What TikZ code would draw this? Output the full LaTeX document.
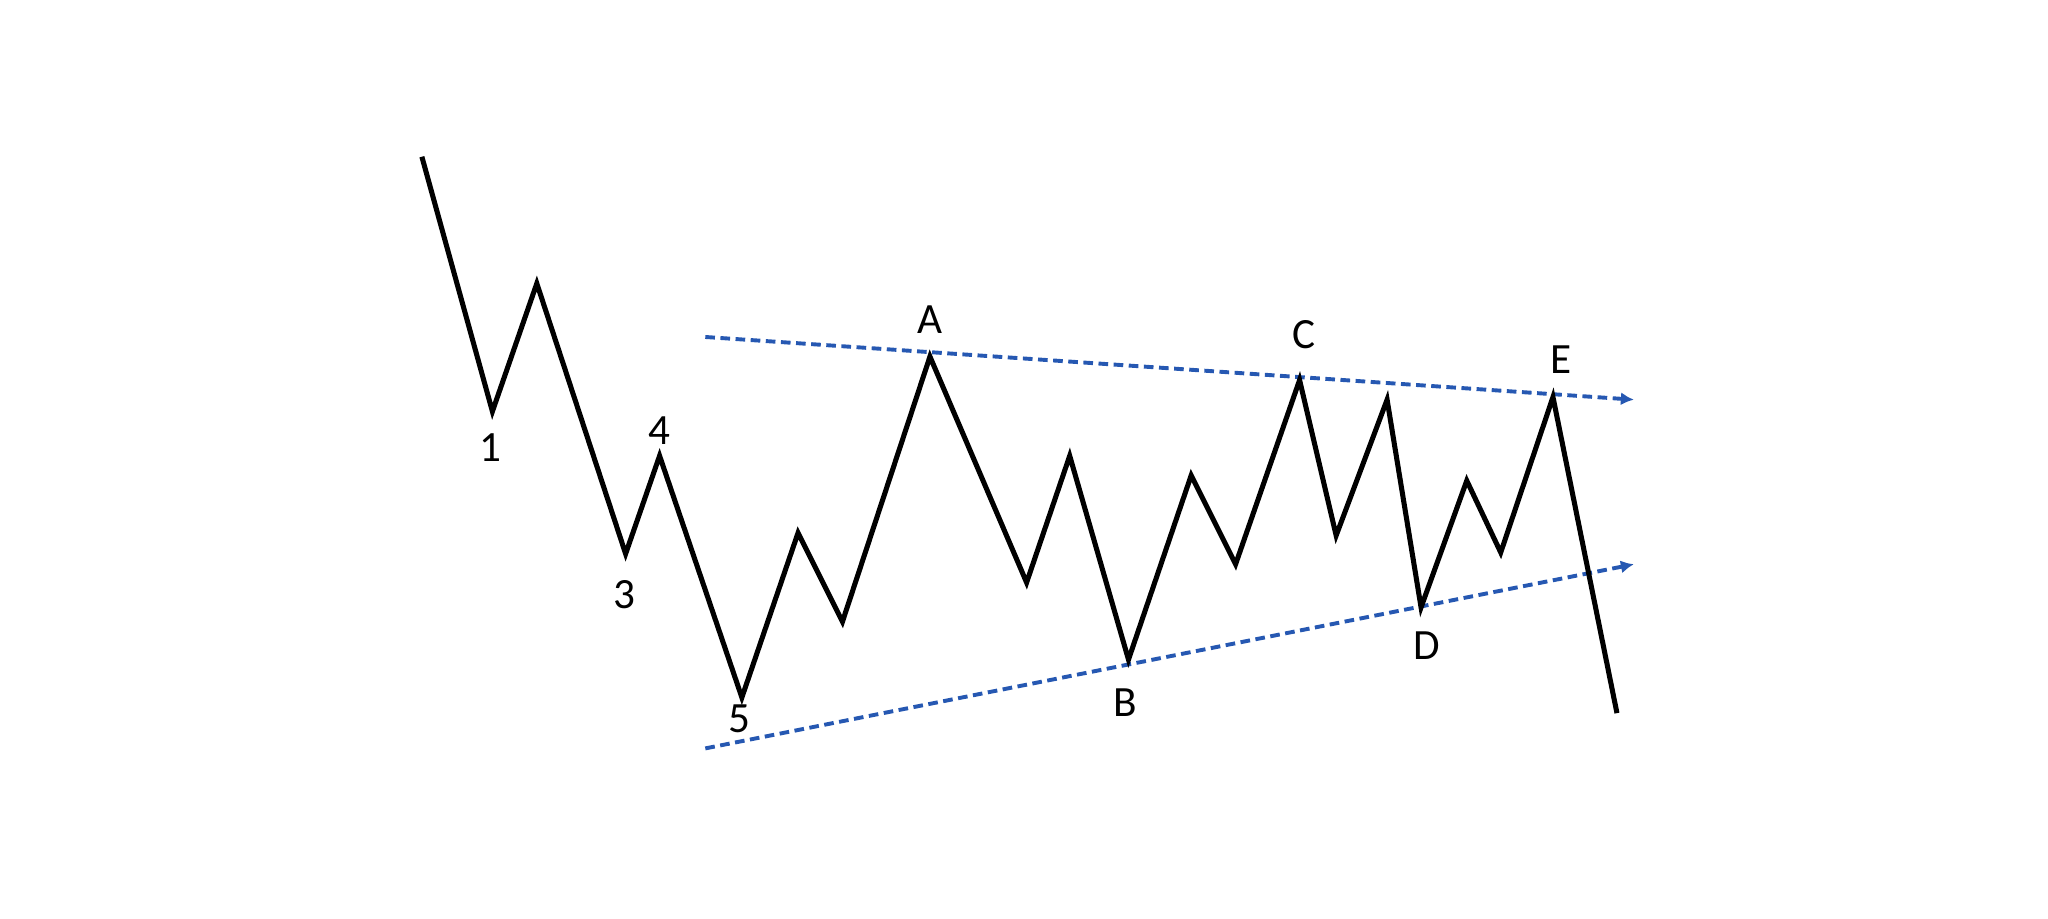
\documentclass[tikz,border=0pt]{standalone}
\usepackage{fontspec}
\setmainfont{Carlito}
\usetikzlibrary{arrows.meta}
\definecolor{trendblue}{RGB}{38,88,178}

\begin{document}
\begin{tikzpicture}[x=0.01cm, y=-0.01cm]
    \tikzstyle{wave}=[black, line width=1.1pt, line join=miter]
    \tikzstyle{trend}=[trendblue, line width=0.85pt, dash pattern=on 2.1pt off 1.2pt, -{Latex[length=1mm, width=1mm]}]
    \tikzstyle{lbl}=[font=\fontsize{9.4}{11}\selectfont, inner sep=0pt]
    \useasboundingbox (0,0) rectangle (1568,703);

    % turning points of the price line
    \coordinate (s) at (323,120);
    \coordinate (w1) at (377,315);
    \coordinate (w2) at (411,217);
    \coordinate (w3) at (479,424);
    \coordinate (w4) at (505,349);
    \coordinate (w5) at (568,534);
    \coordinate (a1) at (611,408);
    \coordinate (a2) at (645,476);
    \coordinate (A) at (712,273);
    \coordinate (b1) at (786,446);
    \coordinate (b2) at (819,349);
    \coordinate (B) at (864,505);
    \coordinate (c1) at (912,364);
    \coordinate (c2) at (946,432);
    \coordinate (C) at (995,291);
    \coordinate (d1) at (1023,410);
    \coordinate (d2) at (1062,306);
    \coordinate (D) at (1088,465);
    \coordinate (e1) at (1123,368);
    \coordinate (e2) at (1149,423);
    \coordinate (E) at (1189,304);
    \coordinate (t) at (1238,546);

    % trend lines
    \coordinate (u0) at (540,258);
    \coordinate (u1) at (1251,306);
    \coordinate (l0) at (540,573);
    \coordinate (l1) at (1251,432);
    \draw[trend] (u0) -- (u1);
    \draw[trend] (l0) -- (l1);

    \draw[wave] (s)--(w1)--(w2)--(w3)--(w4)--(w5)--(a1)--(a2)--(A)--(b1)--(b2)--(B)
                --(c1)--(c2)--(C)--(d1)--(d2)--(D)--(e1)--(e2)--(E)--(t);

    \node[lbl] (n1) at (375.5,343) {1};
    \node[lbl] (n3) at (478,455) {3};
    \node[lbl] (n4) at (504.5,330) {4};
    \node[lbl] (n5) at (566,550) {5};
    \node[lbl] (nA) at (712,245) {A};
    \node[lbl] (nB) at (861.5,538) {B};
    \node[lbl] (nC) at (998,256) {C};
    \node[lbl] (nD) at (1092.5,494) {D};
    \node[lbl] (nE) at (1195,275) {E};
\end{tikzpicture}
\end{document}
